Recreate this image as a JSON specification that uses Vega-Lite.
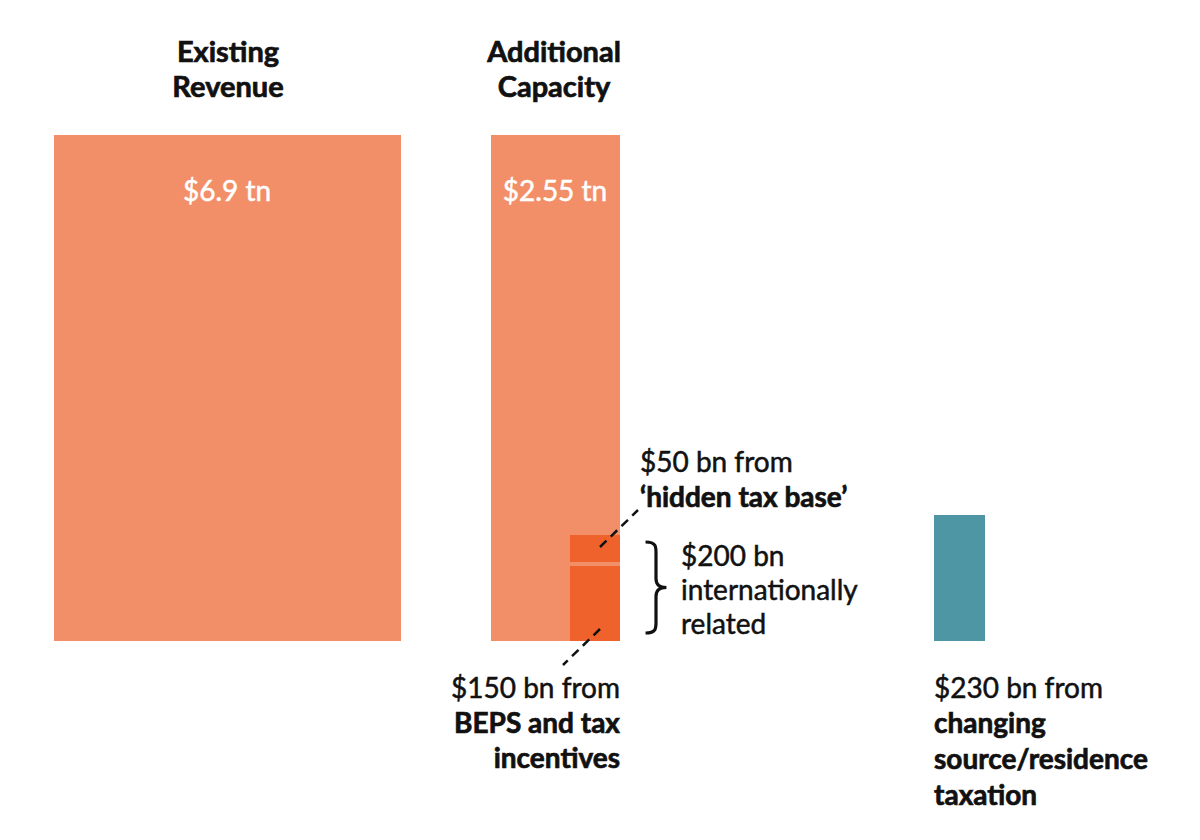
{
  "$schema": "https://vega.github.io/schema/vega-lite/v6.json",
  "autosize": {"type": "fit", "contains": "padding"},
  "width": 1200,
  "height": 840,
  "padding": 0,
  "background": "white",
  "config": {"view": {"stroke": null}, "text": {"font": "Lato"}},
  "datasets": {
    "bars": [
      {"item": "Existing revenue", "value_tn": 6.9, "x": 54, "x2": 401, "y": 0, "y2": 1012, "kind": "total"},
      {"item": "Additional capacity", "value_tn": 2.55, "x": 491, "x2": 620, "y": 0, "y2": 1012, "kind": "total"},
      {"item": "BEPS and tax incentives", "value_bn": 150, "x": 570, "x2": 620, "y": 0, "y2": 150, "kind": "intl"},
      {"item": "Hidden tax base", "value_bn": 50, "x": 570, "x2": 620, "y": 158, "y2": 212, "kind": "intl"},
      {"item": "Changing source/residence taxation", "value_bn": 230, "x": 934, "x2": 985, "y": 0, "y2": 252, "kind": "source"}
    ],
    "labels": [
      {"text": "Existing", "role": "header", "x": 228, "y": 1158},
      {"text": "Revenue", "role": "header", "x": 228, "y": 1088},
      {"text": "Additional", "role": "header", "x": 554, "y": 1158},
      {"text": "Capacity", "role": "header", "x": 554, "y": 1088},
      {"text": "$6.9 tn", "role": "value", "x": 227, "y": 880},
      {"text": "$2.55 tn", "role": "value", "x": 555, "y": 880},
      {"text": "$50 bn from", "role": "leftReg", "x": 640, "y": 338},
      {"text": "‘hidden tax base’", "role": "leftBold", "x": 640, "y": 268},
      {"text": "$200 bn", "role": "leftReg", "x": 681, "y": 150},
      {"text": "internationally", "role": "leftReg", "x": 681, "y": 82},
      {"text": "related", "role": "leftReg", "x": 681, "y": 14},
      {"text": "$150 bn from", "role": "rightReg", "x": 620, "y": -114},
      {"text": "BEPS and tax", "role": "rightBold", "x": 620, "y": -184},
      {"text": "incentives", "role": "rightBold", "x": 620, "y": -254},
      {"text": "$230 bn from", "role": "leftReg", "x": 934, "y": -114},
      {"text": "changing", "role": "leftBold", "x": 934, "y": -184},
      {"text": "source/residence", "role": "leftBold", "x": 934, "y": -256},
      {"text": "taxation", "role": "leftBold", "x": 934, "y": -328}
    ],
    "leaders": [
      {"label": "hidden tax base", "x": 600, "y": 188, "x2": 638, "y2": 262},
      {"label": "BEPS", "x": 600, "y": 24, "x2": 563, "y2": -48}
    ],
    "brace": [
      {"label": "$200 bn internationally related", "x": 656, "y": 107}
    ]
  },
  "layer": [
    {
      "data": {"name": "bars"},
      "mark": {"type": "rect"},
      "encoding": {
        "x": {"field": "x", "type": "quantitative", "scale": {"domain": [0, 1200], "nice": false, "zero": false}, "axis": null},
        "x2": {"field": "x2"},
        "y": {"field": "y", "type": "quantitative", "scale": {"domain": [-398, 1282], "nice": false, "zero": false}, "axis": null},
        "y2": {"field": "y2"},
        "color": {"field": "kind", "type": "nominal", "scale": {"domain": ["total", "intl", "source"], "range": ["#F38F68", "#F0622B", "#4F96A5"]}, "legend": null}
      }
    },
    {
      "data": {"name": "leaders"},
      "mark": {"type": "rule", "stroke": "#111111", "strokeWidth": 2.5, "strokeDash": [9, 6]},
      "encoding": {
        "x": {"field": "x", "type": "quantitative"},
        "x2": {"field": "x2"},
        "y": {"field": "y", "type": "quantitative"},
        "y2": {"field": "y2"}
      }
    },
    {
      "data": {"name": "brace"},
      "mark": {"type": "point", "filled": false, "stroke": "#111111", "strokeWidth": 3.2, "opacity": 1, "size": 8281,
        "shape": "M -0.23,-1 C 0.02,-1 0.0,-0.88 0.0,-0.72 L 0.0,-0.2 C 0.0,-0.05 0.08,0 0.23,0 C 0.08,0 0.0,0.05 0.0,0.2 L 0.0,0.72 C 0.0,0.88 0.02,1 -0.23,1"},
      "encoding": {
        "x": {"field": "x", "type": "quantitative"},
        "y": {"field": "y", "type": "quantitative"}
      }
    },
    {
      "data": {"name": "labels"},
      "transform": [{"filter": "datum.role === 'header'"}],
      "mark": {"type": "text", "align": "center", "baseline": "alphabetic", "fontSize": 29, "fontWeight": "bold", "color": "#111111", "stroke": "#111111", "strokeWidth": 0.7},
      "encoding": {
        "x": {"field": "x", "type": "quantitative"},
        "y": {"field": "y", "type": "quantitative"},
        "text": {"field": "text"}
      }
    },
    {
      "data": {"name": "labels"},
      "transform": [{"filter": "datum.role === 'value'"}],
      "mark": {"type": "text", "align": "center", "baseline": "alphabetic", "fontSize": 28, "fontWeight": "normal", "color": "white", "stroke": "white", "strokeWidth": 0.5},
      "encoding": {
        "x": {"field": "x", "type": "quantitative"},
        "y": {"field": "y", "type": "quantitative"},
        "text": {"field": "text"}
      }
    },
    {
      "data": {"name": "labels"},
      "transform": [{"filter": "datum.role === 'leftReg'"}],
      "mark": {"type": "text", "align": "left", "baseline": "alphabetic", "fontSize": 28, "fontWeight": "normal", "color": "#111111", "stroke": "#111111", "strokeWidth": 0.5},
      "encoding": {
        "x": {"field": "x", "type": "quantitative"},
        "y": {"field": "y", "type": "quantitative"},
        "text": {"field": "text"}
      }
    },
    {
      "data": {"name": "labels"},
      "transform": [{"filter": "datum.role === 'leftBold'"}],
      "mark": {"type": "text", "align": "left", "baseline": "alphabetic", "fontSize": 28, "fontWeight": "bold", "color": "#111111", "stroke": "#111111", "strokeWidth": 0.7},
      "encoding": {
        "x": {"field": "x", "type": "quantitative"},
        "y": {"field": "y", "type": "quantitative"},
        "text": {"field": "text"}
      }
    },
    {
      "data": {"name": "labels"},
      "transform": [{"filter": "datum.role === 'rightReg'"}],
      "mark": {"type": "text", "align": "right", "baseline": "alphabetic", "fontSize": 28, "fontWeight": "normal", "color": "#111111", "stroke": "#111111", "strokeWidth": 0.5},
      "encoding": {
        "x": {"field": "x", "type": "quantitative"},
        "y": {"field": "y", "type": "quantitative"},
        "text": {"field": "text"}
      }
    },
    {
      "data": {"name": "labels"},
      "transform": [{"filter": "datum.role === 'rightBold'"}],
      "mark": {"type": "text", "align": "right", "baseline": "alphabetic", "fontSize": 28, "fontWeight": "bold", "color": "#111111", "stroke": "#111111", "strokeWidth": 0.7},
      "encoding": {
        "x": {"field": "x", "type": "quantitative"},
        "y": {"field": "y", "type": "quantitative"},
        "text": {"field": "text"}
      }
    }
  ]
}
